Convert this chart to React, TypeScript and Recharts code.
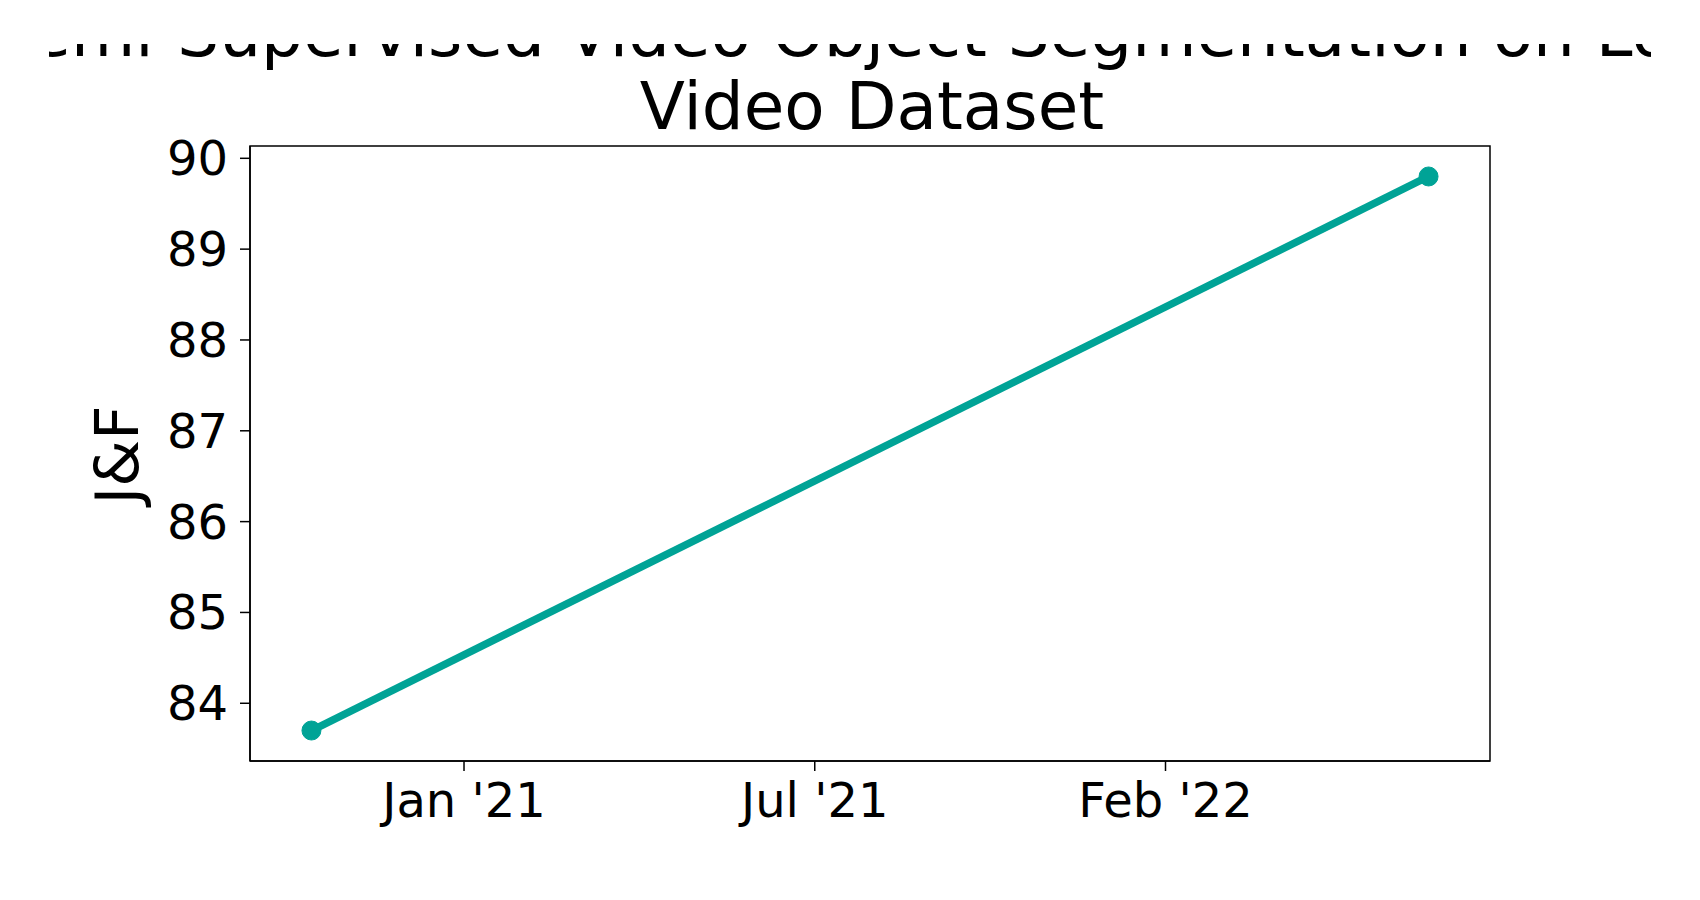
import { LineChart, Line, XAxis, YAxis, ReferenceArea } from 'recharts';

// release dates of the two results and their J&F scores
const dates = ['2020-10-06', '2022-07-05'];
const jfScores = [83.7, 89.8];

const tickDates = ['2021-01-01', '2021-07-20', '2022-02-05'];
const tickLabels = ["Jan '21", "Jul '21", "Feb '22"];
const yTicks = [84, 85, 86, 87, 88, 89, 90];

const titleLines = ['Semi-Supervised Video Object Segmentation on Long', 'Video Dataset'];

const TEAL = '#00a396';
const FONT = '"DejaVu Sans", sans-serif';

const toDay = (d: string) => Date.parse(d) / 86400000;

const data = dates.map((d, i) => ({ day: toDay(d), score: jfScores[i] }));
const tickDays = tickDates.map(toDay);

// matplotlib-like auto margins around the data
const pad = (vals: number[], f = 0.055): [number, number] => {
  const lo = Math.min(...vals);
  const hi = Math.max(...vals);
  const s = hi - lo;
  return [lo - s * f, hi + s * f];
};
const xDomain = pad(data.map((d) => d.day));
const yDomain = pad(jfScores);

export default function App() {
  return (
    <div style={{ position: 'fixed', left: 0, top: 0, width: 1700, height: 900, background: '#fff' }}>
      <LineChart
        width={1700}
        height={900}
        data={data}
        margin={{ top: 146, right: 210, bottom: 79, left: 150 }}
      >
        <XAxis
          dataKey="day"
          type="number"
          domain={xDomain}
          allowDataOverflow
          ticks={tickDays}
          tickFormatter={(v) => tickLabels[tickDays.indexOf(v)] ?? ''}
          height={60}
          tickSize={10}
          tickMargin={12}
          axisLine={{ stroke: '#000', strokeWidth: 1.5 }}
          tickLine={{ stroke: '#000', strokeWidth: 1.5 }}
          tick={{ fill: '#000', fontSize: 48, fontFamily: FONT }}
        />
        <YAxis
          type="number"
          domain={yDomain}
          allowDataOverflow
          ticks={yTicks}
          width={100}
          tickSize={10}
          tickMargin={12}
          axisLine={{ stroke: '#000', strokeWidth: 1.5 }}
          tickLine={{ stroke: '#000', strokeWidth: 1.5 }}
          tick={{ fill: '#000', fontSize: 48, fontFamily: FONT }}
        />
        <ReferenceArea
          x1={xDomain[0]}
          x2={xDomain[1]}
          y1={yDomain[0]}
          y2={yDomain[1]}
          fill="none"
          stroke="#000"
          strokeWidth={1.5}
          ifOverflow="visible"
        />
        <Line
          type="linear"
          dataKey="score"
          stroke={TEAL}
          strokeWidth={7.5}
          dot={{ r: 9.5, fill: TEAL, stroke: TEAL, strokeWidth: 1 }}
          isAnimationActive={false}
        />
      </LineChart>
      <svg
        width={1700}
        height={900}
        style={{ position: 'absolute', left: 0, top: 0, pointerEvents: 'none' }}
        fontFamily={FONT}
      >
        <defs>
          <clipPath id="titleClip">
            <rect x={49} y={44} width={1602} height={200} />
          </clipPath>
        </defs>
        <g clipPath="url(#titleClip)">
          {titleLines.map((t, i) => (
            <text key={i} x={872} y={56 + i * 73} textAnchor="middle" fontSize={66} fill="#000">
              {t}
            </text>
          ))}
        </g>
        <text x={138} y={455} transform="rotate(-90 138 455)" textAnchor="middle" fontSize={60} fill="#000">
          J&amp;F
        </text>
      </svg>
    </div>
  );
}
